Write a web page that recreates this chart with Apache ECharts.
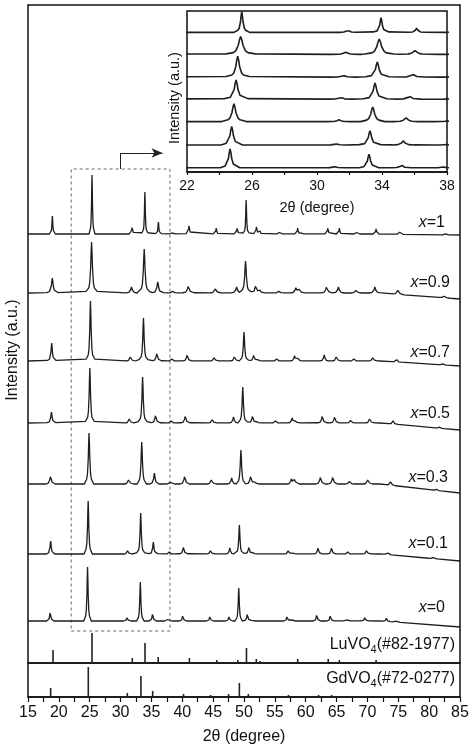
<!DOCTYPE html>
<html>
<head>
<meta charset="utf-8">
<script src="https://cdn.jsdelivr.net/npm/echarts@6/dist/echarts.min.js"></script>
<style>
  html, body { margin: 0; padding: 0; background: #fff; }
  #chart { width: 474px; height: 746px; }
</style>
</head>
<body>
<div id="chart"></div>
<script>
// compositions, top to bottom
const compositions = ["1", "0.9", "0.7", "0.5", "0.3", "0.1", "0"];

// [2θ, peak height], one list per composition
const peaksX10 = [[18.95,18],[25.37,59],[31.89,8],[33.94,42],[36.13,12],[38.4,2],[41.1,10],[45.5,6],[48.9,7],[50.35,34],[52.05,9],[52.6,3],[55.8,3],[58.7,6],[59.2,2],[63.6,7],[65.45,6],[68.3,3],[71.4,5],[75.3,4],[82.7,2]];
const peaksX09 = [[18.94,15],[25.30,51],[31.77,6],[33.83,44],[36.03,11],[38.5,2],[41.0,8],[45.4,5],[48.8,6],[50.25,32],[51.9,8],[52.5,3],[55.7,2],[58.4,5],[59.0,4],[63.4,7],[65.3,6],[68.2,3],[71.2,6],[75.0,5],[82.5,2]];
const peaksX07 = [[18.84,18],[25.12,60],[31.62,5],[33.71,43],[35.89,9],[38.3,2],[40.8,7],[45.2,4],[48.5,5],[50.0,29],[51.6,7],[52.3,2],[55.3,2],[58.2,5],[58.7,3],[63.0,6],[65.0,5],[67.8,2],[70.9,4],[74.7,3],[82.2,1]];
const peaksX05 = [[18.8,11],[25.02,55],[31.46,5],[33.57,46],[35.68,9],[38.2,2],[40.5,8],[44.9,4],[48.3,6],[49.8,36],[51.4,8],[52.1,2],[55.1,2],[57.8,5],[58.4,3],[62.7,8],[64.7,7],[67.3,3],[70.4,5],[74.2,4],[81.7,1]];
const peaksX03 = [[18.67,9],[24.89,51],[31.35,5],[33.43,42],[35.48,11],[38.0,2],[40.4,9],[44.75,5],[48.0,6],[49.5,34],[51.1,9],[51.8,3],[57.7,5],[58.2,4],[62.4,8],[64.4,8],[67.1,3],[70.1,5],[73.8,4],[81.2,1]];
const peaksX01 = [[18.67,13],[24.75,53],[31.17,4],[33.26,41],[35.31,12],[37.9,2],[40.2,8],[44.6,4],[47.7,6],[49.25,29],[50.8,8],[51.5,2],[57.2,4],[58.0,2],[62.0,7],[64.2,7],[66.8,2],[69.9,4],[73.2,3],[80.6,1]];
const peaksX00 = [[18.6,10],[24.65,54],[31.07,4],[33.2,39],[35.2,8],[37.74,3],[40.1,6],[44.5,5],[47.6,5],[49.15,33],[50.55,8],[51.3,2],[57.0,5],[57.8,2],[61.8,7],[64.0,6],[66.7,2],[69.6,4],[73.1,4],[74.7,2]];
const patternPeaks = [peaksX10, peaksX09, peaksX07, peaksX05, peaksX03, peaksX01, peaksX00];

// peak FWHM (degree) and background drop at 85° for each pattern
const peakFwhm = [0.16, 0.3, 0.24, 0.24, 0.25, 0.22, 0.2];
const bgDrop = [1, 6, 5, 7, 9, 7, 6];
const bgKnee = 72;

// vertical stacking offsets (main panel, inset)
const mainOffsets = [429, 370, 302, 240, 179, 109, 42];
const insetOffsets = [399, 336, 271, 208, 144, 77, 12];

// reference patterns [2θ, relative height]
const luvo4Sticks = [[19.05,13],[25.37,30],[31.9,5],[33.96,20],[36.1,6],[38.5,1],[41.15,5],[45.6,3],[49.0,3],[50.4,15],[52.0,4],[52.6,2],[55.8,1],[58.7,4],[59.3,1],[63.65,4],[65.45,3],[68.4,1],[71.4,3],[75.3,1],[82.6,1]];
const gdvo4Sticks = [[18.67,9],[24.77,30],[31.1,4],[33.3,21],[35.2,6],[37.8,1],[40.2,3],[44.6,2],[47.5,3],[49.25,14],[50.7,3],[57.2,2],[62.1,2],[64.2,2],[69.6,1],[73.4,1],[82.9,1]];

// peak profile, offsets in units of FWHM
const peakShape = [[-3,0.03],[-1.5,0.1],[-1,0.2],[-0.5,0.5],[-0.25,0.8],[0,1],[0.25,0.8],[0.5,0.5],[1,0.2],[1.5,0.1],[3,0.03]];

function shapeAt(u) {
  if (u <= peakShape[0][0] || u >= peakShape[peakShape.length - 1][0]) return 0;
  for (let i = 1; i < peakShape.length; i++) {
    const a = peakShape[i - 1], b = peakShape[i];
    if (u <= b[0]) return a[1] + (b[1] - a[1]) * (u - a[0]) / (b[0] - a[0]);
  }
  return 0;
}

function buildCurve(idx, offset) {
  const peaks = patternPeaks[idx];
  const w = peakFwhm[idx];
  let xs = [15, bgKnee, 85];
  peaks.forEach(p => peakShape.forEach(s => xs.push(p[0] + s[0] * w)));
  xs = xs.filter(x => x >= 15 && x <= 85).sort((a, b) => a - b);
  const out = [];
  xs.forEach(x => {
    if (out.length && Math.abs(out[out.length - 1][0] - x) < 1e-6) return;
    let y = offset;
    if (x > bgKnee) y -= bgDrop[idx] * (x - bgKnee) / (85 - bgKnee);
    peaks.forEach(p => { y += p[1] * shapeAt((x - p[0]) / w); });
    out.push([x, y]);
  });
  return out;
}

const FONT = '"Liberation Sans", Arial, sans-serif';
const chart = echarts.init(document.getElementById("chart"), null, { renderer: "canvas" });

const series = [];
compositions.forEach((c, i) => {
  series.push({
    name: "x=" + c, type: "line", xAxisIndex: 0, yAxisIndex: 0,
    data: buildCurve(i, mainOffsets[i]),
    showSymbol: false, animation: false,
    lineStyle: { color: "#1e1e1e", width: 1.3 }
  });
  series.push({
    name: "inset x=" + c, type: "line", xAxisIndex: 2, yAxisIndex: 2,
    data: buildCurve(i, insetOffsets[i]),
    showSymbol: false, animation: false, clip: true,
    lineStyle: { color: "#1e1e1e", width: 1.6 }
  });
});

series.push({
  name: "LuVO4", type: "bar", xAxisIndex: 0, yAxisIndex: 0,
  data: luvo4Sticks, barWidth: 1.6, animation: false,
  itemStyle: { color: "#222" },
  markArea: {
    silent: true,
    itemStyle: { color: "rgba(0,0,0,0)", borderColor: "#666", borderWidth: 1, borderType: [3, 3] },
    data: [[{ coord: [22, 32] }, { coord: [38, 494] }]]
  },
  markLine: {
    silent: true, animation: false,
    lineStyle: { color: "#222", width: 1, type: "solid" },
    label: { show: false },
    data: [
      [{ coord: [30, 494], symbol: "none" }, { coord: [30, 510], symbol: "none" }],
      [{ coord: [30, 510], symbol: "none" }, { coord: [36.8, 510], symbol: "arrow", symbolSize: [7, 11] }]
    ]
  }
});
series.push({
  name: "GdVO4", type: "bar", xAxisIndex: 1, yAxisIndex: 1,
  data: gdvo4Sticks, barWidth: 1.6, animation: false,
  itemStyle: { color: "#222" }
});

const compLabelY = [223, 283, 353, 414, 478, 544, 608];
const compLabelX = [445, 450, 450, 450, 448, 448, 445];
const graphics = compositions.map((c, i) => ({
  type: "text", x: compLabelX[i], y: compLabelY[i], z: 100,
  style: {
    text: "{i|x}=" + c, align: "right", verticalAlign: "middle",
    textAlign: "right", textVerticalAlign: "middle",
    font: "16px " + FONT, fill: "#111",
    rich: { i: { fontStyle: "italic", fontSize: 16, fontFamily: FONT } }
  }
}));
function refLabel(name, card, x, y) {
  return {
    type: "text", x: x, y: y, z: 100,
    style: {
      text: "{n|" + name + "}{s|4}{n|" + card + "}",
      align: "right", verticalAlign: "middle", textAlign: "right", textVerticalAlign: "middle",
      fill: "#111",
      rich: {
        n: { fontSize: 16, fontFamily: FONT, color: "#111" },
        s: { fontSize: 11, fontFamily: FONT, color: "#111", padding: [9, 0, 0, 0] }
      }
    }
  };
}
graphics.push(refLabel("LuVO", "(#82-1977)", 455, 645));
graphics.push(refLabel("GdVO", "(#72-0277)", 455, 679));
graphics.push({
  type: "text", x: 13, y: 350, rotation: Math.PI / 2,
  style: { text: "Intensity (a.u.)", align: "center", verticalAlign: "middle",
    textAlign: "center", textVerticalAlign: "middle", font: "16px " + FONT, fill: "#111" }
});
graphics.push({
  type: "text", x: 175, y: 98, rotation: Math.PI / 2, z: 100,
  style: { text: "Intensity (a.u.)", align: "center", verticalAlign: "middle",
    textAlign: "center", textVerticalAlign: "middle", font: "14.5px " + FONT, fill: "#111" }
});

const axisLine = { show: true, lineStyle: { color: "#111", width: 1.5 } };

chart.setOption({
  animation: false,
  backgroundColor: "#fff",
  grid: [
    { left: 28, right: 14, top: 5, height: 658, show: true, borderColor: "#111", borderWidth: 1.5 },
    { left: 28, right: 14, top: 663, height: 34, show: true, borderColor: "#111", borderWidth: 1.5 },
    { left: 187, width: 260, top: 11, height: 161, show: true, borderColor: "#111", borderWidth: 1.5, backgroundColor: "#fff" }
  ],
  xAxis: [
    { gridIndex: 0, type: "value", min: 15, max: 85, show: false },
    {
      gridIndex: 1, type: "value", min: 15, max: 85, interval: 5,
      axisLine: axisLine,
      axisTick: { show: true, inside: false, length: 5, lineStyle: { color: "#111", width: 1.2 } },
      minorTick: { show: true, splitNumber: 2, length: 5, lineStyle: { color: "#111", width: 1.2 } },
      splitLine: { show: false },
      axisLabel: { fontSize: 16, fontFamily: FONT, color: "#111", margin: 8 },
      name: "2θ (degree)", nameLocation: "middle", nameGap: 32,
      nameTextStyle: { fontSize: 16, fontFamily: FONT, color: "#111" }
    },
    {
      gridIndex: 2, type: "value", min: 22, max: 38, interval: 4,
      axisLine: axisLine,
      axisTick: { show: true, inside: false, length: 3, lineStyle: { color: "#111", width: 1.2 } },
      minorTick: { show: true, splitNumber: 2, length: 3, lineStyle: { color: "#111", width: 1.2 } },
      splitLine: { show: false },
      axisLabel: { fontSize: 14, fontFamily: FONT, color: "#111", margin: 7 },
      name: "2θ (degree)", nameLocation: "middle", nameGap: 28,
      nameTextStyle: { fontSize: 14.5, fontFamily: FONT, color: "#111" }
    }
  ],
  yAxis: [
    { gridIndex: 0, type: "value", min: 0, max: 658, show: false },
    { gridIndex: 1, type: "value", min: 0, max: 34, show: false },
    { gridIndex: 2, type: "value", min: 0, max: 460, show: false }
  ],
  graphic: graphics,
  series: series
});
</script>
</body>
</html>
